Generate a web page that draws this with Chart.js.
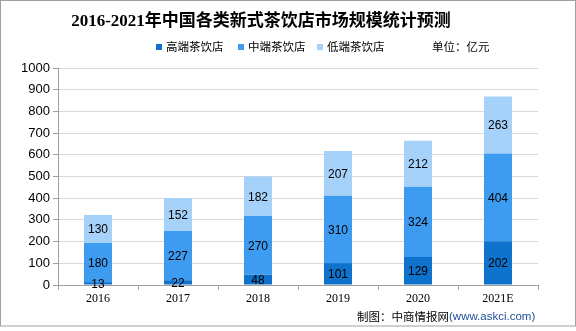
<!DOCTYPE html>
<html lang="zh">
<head>
  <meta charset="UTF-8" />
  <title>2016-2021年中国各类新式茶饮店市场规模统计预测</title>
  <script src="https://cdn.jsdelivr.net/npm/chart.js"></script>
  <style>
    html, body { margin: 0; padding: 0; background: #fff; }
    #wrap { width: 576px; height: 331px; position: relative; }
  </style>
</head>
<body>
  <div id="wrap"><canvas id="chart" width="576" height="331"></canvas></div>

  <script>
    const years = ["2016", "2017", "2018", "2019", "2020", "2021E"];
    const highEnd = [13, 22, 48, 101, 129, 202];
    const midEnd = [180, 227, 270, 310, 324, 404];
    const lowEnd = [130, 152, 182, 207, 212, 263];
    const yTicks = [0, 100, 200, 300, 400, 500, 600, 700, 800, 900, 1000];

    const colors = ["#0f72cd", "#3e9cf0", "#a6d2fa"];
    const names = ["高端茶饮店", "中端茶饮店", "低端茶饮店"];
    const cjk = '"Noto Sans CJK SC", sans-serif';

    // labels inside each segment + title, legend, footer, frame
    const decor = {
      id: "decor",
      afterDatasetsDraw(chart) {
        const ctx = chart.ctx;
        ctx.save();
        ctx.font = '12px "Liberation Sans", sans-serif';
        ctx.fillStyle = "#000";
        ctx.textAlign = "center";
        ctx.textBaseline = "middle";
        chart.data.datasets.forEach((ds, i) => {
          chart.getDatasetMeta(i).data.forEach((bar, j) => {
            const p = bar.getProps(["x", "y", "base"], true);
            ctx.fillText(ds.data[j], p.x, (p.y + p.base) / 2 + 1);
          });
        });
        ctx.restore();
      },
      afterDraw(chart) {
        const ctx = chart.ctx;
        ctx.save();
        // frame
        ctx.strokeStyle = "#a0a0a0";
        ctx.lineWidth = 1;
        ctx.strokeRect(0.5, 0.5, 575, 325.5);

        // title
        ctx.fillStyle = "#000";
        ctx.textBaseline = "middle";
        ctx.textAlign = "center";
        ctx.font = 'bold 17px "Liberation Serif", "Noto Sans CJK SC", serif';
        ctx.fillText("2016-2021年中国各类新式茶饮店市场规模统计预测", 261, 22);

        // legend
        ctx.textAlign = "left";
        ctx.font = "11.5px " + cjk;
        const lx = [156, 238, 317];
        names.forEach((n, i) => {
          ctx.fillStyle = colors[i];
          ctx.fillRect(lx[i], 44, 6, 6);
          ctx.fillStyle = "#000";
          ctx.fillText(n, lx[i] + 10, 47);
        });
        ctx.fillText("单位：亿元", 432, 47);

        // footer
        ctx.font = "11.5px " + cjk;
        ctx.fillStyle = "#000";
        ctx.fillText("制图：中商情报网", 357, 317);
        const w = ctx.measureText("制图：中商情报网").width;
        ctx.fillStyle = "#1f4e9a";
        ctx.font = '11.5px "Liberation Sans", sans-serif';
        ctx.fillText("(www.askci.com)", 357 + w, 317);
        ctx.restore();
      }
    };

    new Chart(document.getElementById("chart"), {
      type: "bar",
      data: {
        labels: years,
        datasets: [
          { label: names[0], data: highEnd, backgroundColor: colors[0] },
          { label: names[1], data: midEnd, backgroundColor: colors[1] },
          { label: names[2], data: lowEnd, backgroundColor: colors[2] }
        ]
      },
      options: {
        responsive: false,
        animation: false,
        layout: { padding: { top: 68, left: 0, right: 38, bottom: 26 } },
        datasets: { bar: { barPercentage: 0.35, categoryPercentage: 1 } },
        plugins: { legend: { display: false }, tooltip: { enabled: false } },
        scales: {
          x: {
            stacked: true,
            afterFit: s => { s.height = 20; },
            grid: { offset: true, drawOnChartArea: false, tickLength: 5, color: "#a0a0a0" },
            border: { color: "#a0a0a0" },
            ticks: { color: "#000", font: { family: '"Liberation Serif", serif', size: 12 }, padding: 2 }
          },
          y: {
            stacked: true,
            min: 0,
            max: 1000,
            afterFit: s => { s.width = 58; },
            afterBuildTicks: s => { s.ticks = yTicks.map(v => ({ value: v })); },
            grid: { color: "#d9d9d9", tickLength: 5, tickColor: "#a0a0a0" },
            border: { color: "#a0a0a0" },
            ticks: {
              color: "#000",
              font: { family: '"Liberation Sans", sans-serif', size: 13 },
              padding: 3,
              callback: v => String(v)
            }
          }
        }
      },
      plugins: [decor]
    });
  </script>
</body>
</html>
